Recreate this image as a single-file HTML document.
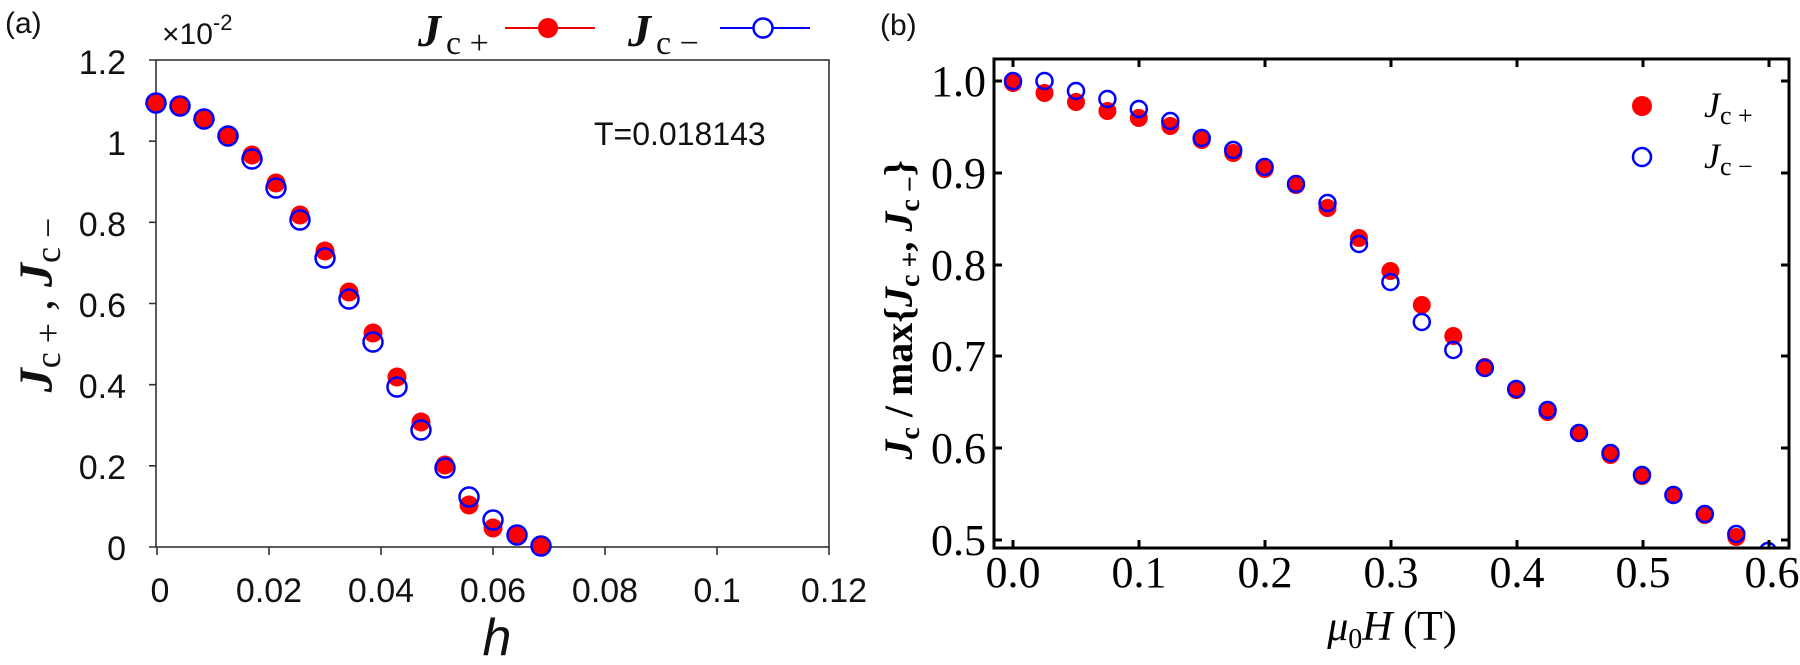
<!DOCTYPE html>
<html><head><meta charset="utf-8"><style>
html,body{margin:0;padding:0;background:#fff;}
svg{display:block;}
</style></head><body>
<svg width="1800" height="665" viewBox="0 0 1800 665" xmlns="http://www.w3.org/2000/svg">
<rect width="1800" height="665" fill="#fff"/>
<!-- ===== Panel (a) ===== -->
<g font-family="Liberation Sans, sans-serif" fill="#111">
<text x="5" y="33" font-size="30">(a)</text>
<text x="162" y="44" font-size="30">×10<tspan dy="-14" font-size="22">-2</tspan></text>
<text x="594" y="145" font-size="32">T=0.018143</text>
</g>
<g stroke="#333" stroke-width="1.6" fill="none">
<rect x="156" y="60" width="673" height="487"/>
<path d="M149 60H156M149 141.2H156M149 222.3H156M149 303.5H156M149 384.7H156M149 465.8H156M149 547H156"/>
<path d="M157 547V555M269 547V555M381 547V555M493 547V555M605 547V555M717 547V555M829 547V555"/>
</g>
<g font-family="Liberation Sans, sans-serif" font-size="34" fill="#111" text-anchor="end">
<text x="126" y="74">1.2</text><text x="126" y="155">1</text><text x="126" y="236">0.8</text>
<text x="126" y="317">0.6</text><text x="126" y="398">0.4</text><text x="126" y="479">0.2</text><text x="126" y="560">0</text>
</g>
<g font-family="Liberation Sans, sans-serif" font-size="34" fill="#111" text-anchor="middle">
<text x="160" y="602">0</text><text x="269" y="602">0.02</text><text x="381" y="602">0.04</text>
<text x="493" y="602">0.06</text><text x="605" y="602">0.08</text><text x="717" y="602">0.1</text><text x="834" y="602">0.12</text>
</g>
<text x="497" y="655" font-family="Liberation Sans, sans-serif" font-style="italic" font-size="52" text-anchor="middle" fill="#111">h</text>
<text transform="translate(52,305) rotate(-90)" font-family="Liberation Serif, serif" font-size="48" text-anchor="middle" fill="#111"><tspan font-weight="bold" font-style="italic">J</tspan><tspan font-size="36" dy="8">c +</tspan><tspan dy="-8"> , </tspan><tspan font-weight="bold" font-style="italic">J</tspan><tspan font-size="36" dy="8">c −</tspan></text>
<!-- legend a -->
<g font-family="Liberation Serif, serif" fill="#111">
<text x="418" y="46" font-size="46" font-weight="bold" font-style="italic">J</text>
<text x="446" y="54" font-size="34">c +</text>
<text x="628" y="46" font-size="46" font-weight="bold" font-style="italic">J</text>
<text x="656" y="54" font-size="34">c −</text>
</g>
<line x1="505" y1="28" x2="595" y2="28" stroke="#e00" stroke-width="2"/>
<circle cx="548" cy="28" r="10" fill="#f00"/>
<line x1="720" y1="28" x2="810" y2="28" stroke="#00f" stroke-width="2"/>
<circle cx="763" cy="28" r="9.5" fill="#fff" stroke="#00f" stroke-width="2.5"/>
<g fill="#f00">
<circle cx="156" cy="103" r="9.5"/><circle cx="180" cy="106" r="9.5"/><circle cx="204" cy="118" r="9.5"/><circle cx="228" cy="135" r="9.5"/><circle cx="252" cy="155" r="9.5"/><circle cx="276" cy="183" r="9.5"/><circle cx="300" cy="215" r="9.5"/><circle cx="325" cy="251" r="9.5"/><circle cx="349" cy="292" r="9.5"/><circle cx="373" cy="333" r="9.5"/><circle cx="397" cy="377" r="9.5"/><circle cx="421" cy="422" r="9.5"/><circle cx="445" cy="465" r="9.5"/><circle cx="469" cy="505" r="9.5"/><circle cx="493" cy="528" r="9.5"/><circle cx="517" cy="535" r="9.5"/><circle cx="541" cy="547" r="9.5"/>
</g>
<g fill="none" stroke="#00f" stroke-width="2.5">
<circle cx="156" cy="103" r="9.5"/><circle cx="180" cy="106" r="9.5"/><circle cx="204" cy="119" r="9.5"/><circle cx="228" cy="136" r="9.5"/><circle cx="252" cy="159" r="9.5"/><circle cx="276" cy="188" r="9.5"/><circle cx="300" cy="220" r="9.5"/><circle cx="325" cy="258" r="9.5"/><circle cx="349" cy="299" r="9.5"/><circle cx="373" cy="342" r="9.5"/><circle cx="397" cy="387" r="9.5"/><circle cx="421" cy="430" r="9.5"/><circle cx="445" cy="468" r="9.5"/><circle cx="469" cy="497" r="9.5"/><circle cx="493" cy="520" r="9.5"/><circle cx="517" cy="535" r="9.5"/><circle cx="541" cy="546" r="9.5"/>
</g>

<!-- ===== Panel (b) ===== -->
<text x="880" y="35" font-family="Liberation Sans, sans-serif" font-size="30" fill="#111">(b)</text>
<defs><clipPath id="cb"><rect x="994" y="59" width="795" height="489"/></clipPath></defs>
<g clip-path="url(#cb)">
<g fill="#f00">
<circle cx="1013" cy="83" r="9"/><circle cx="1044.5" cy="93" r="9"/><circle cx="1076" cy="102" r="9"/><circle cx="1107.4" cy="111" r="9"/><circle cx="1138.8" cy="118" r="9"/><circle cx="1170.3" cy="126" r="9"/><circle cx="1201.7" cy="140" r="9"/><circle cx="1233.2" cy="153" r="9"/><circle cx="1264.6" cy="169" r="9"/><circle cx="1296" cy="185" r="9"/><circle cx="1327.5" cy="208" r="9"/><circle cx="1359" cy="238" r="9"/><circle cx="1390.4" cy="271" r="9"/><circle cx="1421.8" cy="305" r="9"/><circle cx="1453.3" cy="336" r="9"/><circle cx="1484.8" cy="367" r="9"/><circle cx="1516.2" cy="390" r="9"/><circle cx="1547.6" cy="412" r="9"/><circle cx="1579" cy="433" r="9"/><circle cx="1610.5" cy="455" r="9"/><circle cx="1642" cy="476" r="9"/><circle cx="1673.4" cy="495" r="9"/><circle cx="1704.8" cy="515" r="9"/><circle cx="1736.3" cy="537" r="9"/><circle cx="1768" cy="556" r="9"/>
</g>
<g fill="none" stroke="#00f" stroke-width="2.5">
<circle cx="1013" cy="81" r="8"/><circle cx="1044.5" cy="81" r="8"/><circle cx="1076" cy="91" r="8"/><circle cx="1107.4" cy="99" r="8"/><circle cx="1138.8" cy="109" r="8"/><circle cx="1170.3" cy="121" r="8"/><circle cx="1201.7" cy="138" r="8"/><circle cx="1233.2" cy="150" r="8"/><circle cx="1264.6" cy="167" r="8"/><circle cx="1296" cy="184" r="8"/><circle cx="1327.5" cy="203" r="8"/><circle cx="1359" cy="244" r="8"/><circle cx="1390.4" cy="282" r="8"/><circle cx="1421.8" cy="322" r="8"/><circle cx="1453.3" cy="350" r="8"/><circle cx="1484.8" cy="368" r="8"/><circle cx="1516.2" cy="389" r="8"/><circle cx="1547.6" cy="410" r="8"/><circle cx="1579" cy="433" r="8"/><circle cx="1610.5" cy="453" r="8"/><circle cx="1642" cy="475" r="8"/><circle cx="1673.4" cy="495" r="8"/><circle cx="1704.8" cy="514" r="8"/><circle cx="1736.3" cy="534" r="8"/><circle cx="1768" cy="551" r="8"/>
</g>
</g>
<g stroke="#000" stroke-width="3" fill="none">
<rect x="994" y="59" width="795" height="489"/>
<path d="M1013 548v-8M1139 548v-8M1265 548v-8M1391 548v-8M1517 548v-8M1643 548v-8M1769 548v-8"/>
<path d="M1013 59v8M1139 59v8M1265 59v8M1391 59v8M1517 59v8M1643 59v8M1769 59v8"/>
<path d="M994 81h8M994 173h8M994 265h8M994 356h8M994 448h8M994 540h8"/>
<path d="M1789 81h-8M1789 173h-8M1789 265h-8M1789 356h-8M1789 448h-8M1789 540h-8"/>
</g>
<g font-family="Liberation Serif, serif" font-size="44" fill="#000" text-anchor="end">
<text x="986" y="96">1.0</text><text x="986" y="188">0.9</text><text x="986" y="280">0.8</text>
<text x="986" y="371">0.7</text><text x="986" y="463">0.6</text><text x="986" y="555">0.5</text>
</g>
<g font-family="Liberation Serif, serif" font-size="44" fill="#000" text-anchor="middle">
<text x="1013" y="587">0.0</text><text x="1139" y="587">0.1</text><text x="1265" y="587">0.2</text>
<text x="1391" y="587">0.3</text><text x="1517" y="587">0.4</text><text x="1643" y="587">0.5</text><text x="1772" y="587">0.6</text>
</g>
<text x="1392" y="640" font-family="Liberation Serif, serif" font-size="42" text-anchor="middle" fill="#000"><tspan font-style="italic">μ</tspan><tspan font-size="28" dy="8">0</tspan><tspan font-style="italic" dy="-8">H</tspan> (T)</text>
<text transform="translate(912,310) rotate(-90)" font-family="Liberation Serif, serif" font-size="40" font-weight="bold" text-anchor="middle" fill="#000"><tspan font-style="italic">J</tspan><tspan font-size="28" dy="7">c</tspan><tspan dy="-7"> / max{</tspan><tspan font-style="italic">J</tspan><tspan font-size="28" dy="7">c +</tspan><tspan dy="-7">, </tspan><tspan font-style="italic">J</tspan><tspan font-size="28" dy="7">c −</tspan><tspan dy="-7">}</tspan></text>
<circle cx="1642" cy="106" r="10" fill="#f00"/>
<circle cx="1642" cy="157" r="9" fill="#fff" stroke="#00f" stroke-width="2.5"/>
<g font-family="Liberation Serif, serif" fill="#000">
<text x="1704" y="117" font-size="36" font-style="italic">J</text><text x="1720" y="124" font-size="26">c +</text>
<text x="1704" y="168" font-size="36" font-style="italic">J</text><text x="1720" y="175" font-size="26">c −</text>
</g>
</svg>
</body></html>
